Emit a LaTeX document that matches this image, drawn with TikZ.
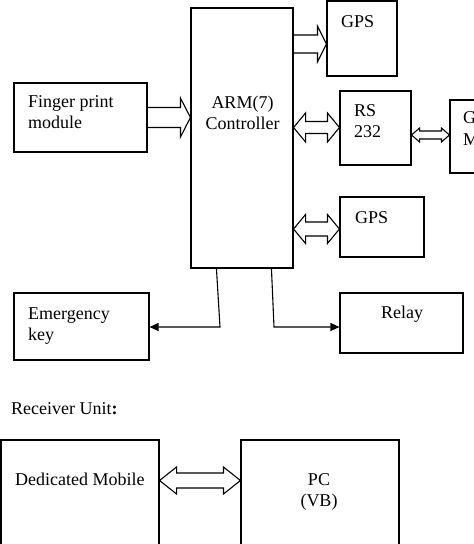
\documentclass[tikz,border=0pt]{standalone}
\usepackage{fontspec}
\setmainfont{Liberation Serif}
\usetikzlibrary{calc,fit,arrows.meta}
\tikzset{
  box/.style={draw, line width=1.1pt, inner sep=0pt},
  txt/.style={inner sep=0pt, font=\fontsize{18}{21}\selectfont},
  fat/.style={draw, line width=1.1pt, line join=miter},
  conn/.style={draw, line width=1.1pt, -{Triangle[length=9pt,width=8pt]}}
}
% single fat arrow pointing right: #1 from, #2 to, #3 yc, #4 half shaft, #5 half head, #6 head length
\newcommand\fatR[6]{%
  \coordinate (fy) at (0,#3);
  \coordinate (fs) at (#1|-fy);
  \coordinate (ft) at (#2|-fy);
  \draw[fat] ($(fs)+(0,-#4)$) -- ($(ft)+(-#6,-#4)$) -- ($(ft)+(-#6,-#5)$) -- (ft)
    -- ($(ft)+(-#6,#5)$) -- ($(ft)+(-#6,#4)$) -- ($(fs)+(0,#4)$);
}
% double fat arrow
\newcommand\fatD[6]{%
  \coordinate (fy) at (0,#3);
  \coordinate (fs) at (#1|-fy);
  \coordinate (ft) at (#2|-fy);
  \draw[fat] (fs) -- ($(fs)+(#6,-#5)$) -- ($(fs)+(#6,-#4)$) -- ($(ft)+(-#6,-#4)$)
    -- ($(ft)+(-#6,-#5)$) -- (ft) -- ($(ft)+(-#6,#5)$) -- ($(ft)+(-#6,#4)$)
    -- ($(fs)+(#6,#4)$) -- ($(fs)+(#6,#5)$) -- cycle;
}
\begin{document}
\begin{tikzpicture}[x=1pt,y=-1pt]
\useasboundingbox (0,0) rectangle (474,544);
\clip (0,0) rectangle (474,544);
\fill[white] (0,0) rectangle (474,544);

% boxes
\node[box, fit={(191,8) (293,268)}] (arm) {};
\node[box, fit={(327,1) (397,76)}] (gps1) {};
\node[box, fit={(340,91) (411,165)}] (rs) {};
\node[box, fit={(450,100) (490,173)}] (gsm) {};
\node[box, fit={(340,197) (424,257)}] (gps2) {};
\node[box, fit={(14,83) (147,152)}] (fp) {};
\node[box, fit={(14,293) (149,360)}] (emg) {};
\node[box, fit={(340,293) (463,353)}] (relay) {};
\node[box, fit={(1,440) (159,550)}] (dm) {};
\node[box, fit={(241,440) (399,550)}] (pc) {};

% texts
\node[txt, anchor=base] (arm1) at (242.5,108) {ARM(7)};
\node[txt, anchor=base] (arm2) at (242.5,129) {Controller};
\node[txt, anchor=base west] (gps1t) at (341,27) {GPS};
\node[txt, anchor=base west] (rs1) at (354,116) {RS};
\node[txt, anchor=base west] (rs2) at (354,137) {232};
\node[txt, anchor=base west] (gsm1) at (463,123) {GSM};
\node[txt, anchor=base west] (gsm2) at (463,145) {Modem};
\node[txt, anchor=base west] (gps2t) at (355,223) {GPS};
\node[txt, anchor=base west] (fp1) at (28,107) {Finger print};
\node[txt, anchor=base west] (fp2) at (28,128) {module};
\node[txt, anchor=base west] (emg1) at (28,319) {Emergency};
\node[txt, anchor=base west] (emg2) at (28,340) {key};
\node[txt, anchor=base] (relayt) at (402,318) {Relay};
\node[txt, anchor=base west] (recv) at (11,414) {Receiver Unit\textbf{:}};
\node[txt, anchor=base west] (dmt) at (15,485) {Dedicated Mobile};
\node[txt, anchor=base] (pc1) at (319,485) {PC};
\node[txt, anchor=base] (pc2) at (319,506) {(VB)};

% fat arrows
\fatR{fp.east}{arm.west}{117.5}{10}{19.5}{10}
\fatR{arm.east}{gps1.west}{44}{9}{18}{9}
\fatD{arm.east}{rs.west}{127.5}{6}{14.5}{12}
\fatD{rs.east}{gsm.west}{135}{4}{7}{8}
\fatD{arm.east}{gps2.west}{229}{7}{14.5}{12}
\fatD{dm.east}{pc.west}{480.5}{7.5}{13.5}{17}

% elbow connectors
\coordinate (e1) at (220,327);
\coordinate (r1) at (274,327);
\draw[conn] ($(arm.south west)+(26,0)$) -- (e1) -- (e1 -| emg.east);
\draw[conn] ($(arm.south west)+(81,0)$) -- (r1) -- (r1 -| relay.west);
\end{tikzpicture}
\end{document}
